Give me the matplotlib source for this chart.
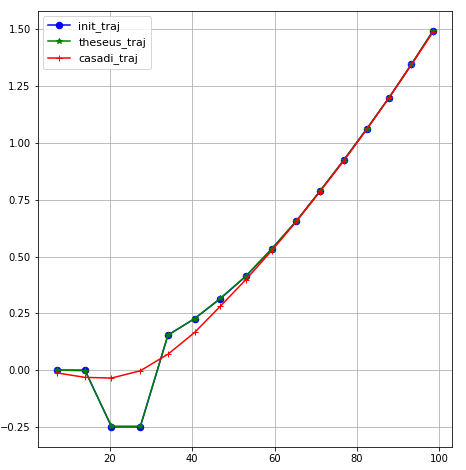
import matplotlib
matplotlib.use("Agg")
import matplotlib.pyplot as plt

# trajectory x positions (shared by all three series)
traj_x = [7.07, 13.98, 20.4, 27.4, 34.1, 40.6, 46.8, 53.0,
          59.3, 65.3, 71.0, 76.8, 82.4, 87.8, 93.2, 98.5]

init_y = [0.0, 0.0, -0.25, -0.25, 0.154, 0.227, 0.314, 0.413,
          0.533, 0.657, 0.788, 0.925, 1.063, 1.20, 1.346, 1.495]
theseus_y = [0.0, -0.003, -0.247, -0.247, 0.154, 0.227, 0.316, 0.414,
             0.534, 0.657, 0.788, 0.925, 1.063, 1.20, 1.346, 1.495]
casadi_y = [-0.012, -0.032, -0.035, -0.003, 0.07, 0.166, 0.281, 0.398,
            0.526, 0.655, 0.786, 0.922, 1.061, 1.20, 1.345, 1.49]

DPI = 72
fig = plt.figure(figsize=(466 / DPI, 470 / DPI), dpi=DPI)
ax = fig.add_axes([0.081, 0.0496, 0.889, 0.9274])

ax.plot(traj_x, init_y, "o-", color="b", ms=6.5, label="init_traj")
ax.plot(traj_x, theseus_y, "*-", color="g", label="theseus_traj")
ax.plot(traj_x, casadi_y, "+-", color="r", label="casadi_traj")

ax.grid(True)
ax.legend(loc="upper left", fontsize=11)

fig.savefig("out.png", dpi=DPI)
